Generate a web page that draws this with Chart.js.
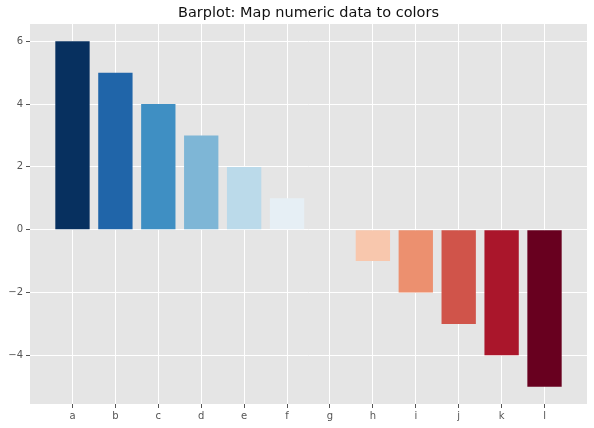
<!DOCTYPE html>
<html>
<head>
<meta charset="utf-8">
<script src="https://cdn.jsdelivr.net/npm/chart.js@4"></script>
<style>
  html, body { margin: 0; padding: 0; background: #ffffff; }
  #wrap { width: 594px; height: 428px; }
</style>
</head>
<body>
<div id="wrap"><canvas id="barChart" width="594" height="428"></canvas></div>
<script>
const categories = ['a', 'b', 'c', 'd', 'e', 'f', 'g', 'h', 'i', 'j', 'k', 'l'];
const values = [6, 5, 4, 3, 2, 1, 0, -1, -2, -3, -4, -5];
const barColors = [
  '#07305f', '#2065a9', '#3f8fc3', '#7eb6d6', '#bbdaea', '#e6eff5',
  '#f7f7f7', '#f8c7ad', '#ec906f', '#d0544a', '#aa162b', '#68001f'
];
const yTicks = [-4, -2, 0, 2, 4, 6];

const tickFont = { family: 'DejaVu Sans', size: 10 };

const plotBackground = {
  id: 'plotBackground',
  beforeDraw(chart) {
    const { ctx, chartArea } = chart;
    ctx.save();
    ctx.fillStyle = '#e5e5e5';
    ctx.fillRect(chartArea.left, chartArea.top, chartArea.right - chartArea.left, chartArea.bottom - chartArea.top);
    ctx.restore();
  }
};

const ctx = document.getElementById('barChart').getContext('2d');

const chart = new Chart(ctx, {
  type: 'bar',
  data: {
    datasets: [{
      label: 'values',
      data: values.map((v, i) => ({ x: i, y: v })),
      backgroundColor: barColors,
      borderWidth: 0,
      inflateAmount: 0,
      barPercentage: 0.8,
      categoryPercentage: 1.0
    }]
  },
  options: {
    responsive: false,
    animation: false,
    layout: { padding: { top: 0, left: 0, right: 7, bottom: 0 } },
    plugins: {
      legend: { display: false },
      tooltip: { enabled: false },
      title: {
        display: true,
        text: 'Barplot: Map numeric data to colors',
        color: '#111111',
        font: { family: 'DejaVu Sans', size: 14.5, weight: 'normal', lineHeight: 1.2 },
        padding: { top: 5, bottom: 1.6 },
        fullSize: false
      }
    },
    scales: {
      x: {
        type: 'linear',
        min: -0.99,
        max: 11.99,
        offset: false,
        afterBuildTicks: (scale) => { scale.ticks = categories.map((c, i) => ({ value: i })); },
        afterFit: (scale) => { scale.height = 24; },
        ticks: {
          color: '#555555',
          font: tickFont,
          padding: 2,
          autoSkip: false,
          maxRotation: 0,
          callback: (v) => categories[v]
        },
        grid: { offset: false, color: '#ffffff', lineWidth: 1, tickColor: '#555555', tickLength: 4, drawOnChartArea: true },
        border: { display: false }
      },
      y: {
        min: -5.55,
        max: 6.55,
        afterBuildTicks: (scale) => { scale.ticks = yTicks.map(v => ({ value: v })); },
        afterFit: (scale) => { scale.width = 30; },
        ticks: {
          color: '#555555',
          font: tickFont,
          padding: 3,
          callback: (v) => String(v).replace('-', '\u2212')
        },
        grid: { color: '#ffffff', lineWidth: 1, tickColor: '#555555', tickLength: 4 },
        border: { display: false }
      }
    }
  },
  plugins: [plotBackground]
});
</script>
</body>
</html>
